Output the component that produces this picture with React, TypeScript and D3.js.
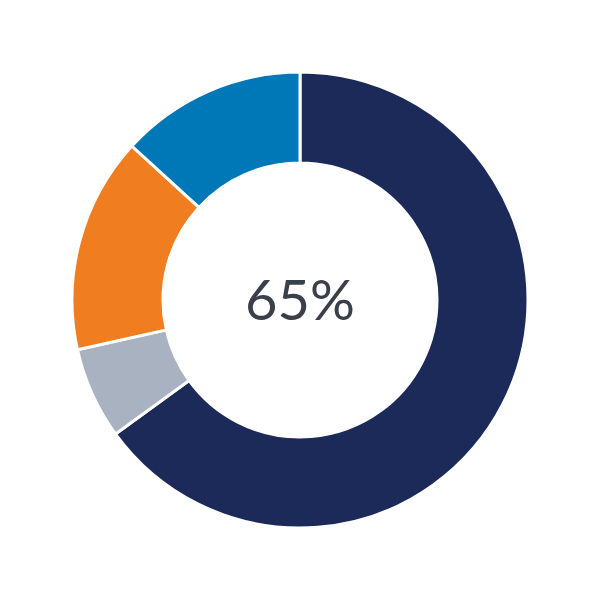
import * as d3 from 'd3';

const categories = ['Navy', 'Gray', 'Orange', 'Blue'];
const values = [65, 6.5, 15.3, 13.2];
const colors = ['#1c2a5a', '#a8b2c0', '#f07d1f', '#0077b6'];
const centerLabel = '65%';

export default function App() {
  const width = 600;
  const height = 600;
  const outer = 228;
  const inner = 137;

  const pie = d3.pie<number>().sort(null).value(d => d);
  const arc = d3.arc<d3.PieArcDatum<number>>().innerRadius(inner).outerRadius(outer);
  const arcs = pie(values);

  return (
    <svg width={width} height={height} style={{ position: 'absolute', left: 0, top: 0 }}>
      <rect width={width} height={height} fill="#fff" />
      <g transform={`translate(${300},${300})`}>
        {arcs.map((a, i) => (
          <path
            key={categories[i]}
            d={arc(a) ?? ''}
            fill={colors[i]}
            stroke="#fff"
            strokeWidth={3}
          />
        ))}
        <text
          textAnchor="middle"
          dy="0.35em"
          fontFamily="Lato, sans-serif"
          fontSize={56}
          fill="#3a4049"
        >
          {centerLabel}
        </text>
      </g>
    </svg>
  );
}
